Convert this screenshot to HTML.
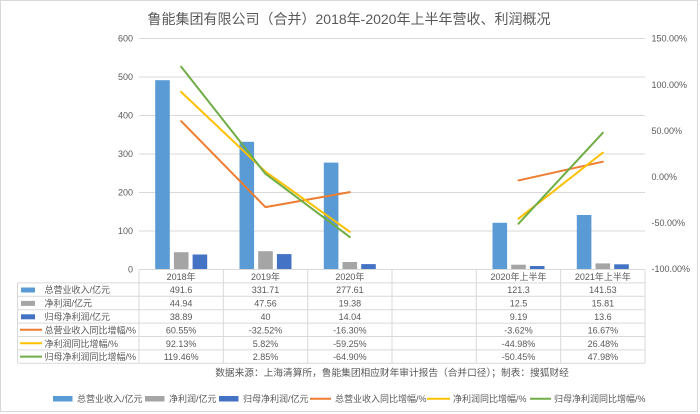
<!DOCTYPE html>
<html><head><meta charset="utf-8"><style>
html,body{margin:0;padding:0;background:#fff;}
svg{display:block;}
text{font-family:"Liberation Sans","Noto Sans CJK SC",sans-serif;fill:#595959;}
</style></head><body>
<svg width="700" height="414" viewBox="0 0 700 414" xmlns="http://www.w3.org/2000/svg">
<rect x="0" y="0" width="700" height="414" fill="#fff"/>
<rect x="0.5" y="0.5" width="697" height="411" fill="none" stroke="#d9d9d9" stroke-width="1"/>
<text x="349" y="24" font-size="14" text-anchor="middle">鲁能集团有限公司（合并）2018年-2020年上半年营收、利润概况</text>
<g stroke="#d9d9d9" stroke-width="1">
<line x1="139" y1="38.5" x2="645" y2="38.5"/>
<line x1="139" y1="77" x2="645" y2="77"/>
<line x1="139" y1="115.5" x2="645" y2="115.5"/>
<line x1="139" y1="154" x2="645" y2="154"/>
<line x1="139" y1="192.5" x2="645" y2="192.5"/>
<line x1="139" y1="231" x2="645" y2="231"/>
</g>
<g font-size="9" text-anchor="end">
<text x="133" y="41.7">600</text>
<text x="133" y="80.2">500</text>
<text x="133" y="118.7">400</text>
<text x="133" y="157.2">300</text>
<text x="133" y="195.7">200</text>
<text x="133" y="234.2">100</text>
<text x="133" y="272.7">0</text>
</g>
<g font-size="9">
<text x="651.5" y="41.7">150.00%</text>
<text x="651.5" y="87.8">100.00%</text>
<text x="651.5" y="133.9">50.00%</text>
<text x="651.5" y="180">0.00%</text>
<text x="651.5" y="226.1">-50.00%</text>
<text x="651.5" y="272.2">-100.00%</text>
</g>
<g fill="#5B9BD5">
<rect x="155.2" y="80.2" width="14.6" height="189.3"/>
<rect x="239.5" y="141.8" width="14.6" height="127.7"/>
<rect x="323.8" y="162.6" width="14.6" height="106.9"/>
<rect x="492.5" y="222.8" width="14.6" height="46.7"/>
<rect x="576.8" y="215.0" width="14.6" height="54.5"/>
</g>
<g fill="#A5A5A5">
<rect x="173.9" y="252.2" width="14.6" height="17.3"/>
<rect x="258.2" y="251.2" width="14.6" height="18.3"/>
<rect x="342.5" y="262.0" width="14.6" height="7.5"/>
<rect x="511.2" y="264.7" width="14.6" height="4.8"/>
<rect x="595.5" y="263.4" width="14.6" height="6.1"/>
</g>
<g fill="#4472C4">
<rect x="192.6" y="254.5" width="14.6" height="15.0"/>
<rect x="276.9" y="254.1" width="14.6" height="15.4"/>
<rect x="361.2" y="264.1" width="14.6" height="5.4"/>
<rect x="529.9" y="266.0" width="14.6" height="3.5"/>
<rect x="614.2" y="264.3" width="14.6" height="5.2"/>
</g>
<g fill="none" stroke-width="2" stroke-linejoin="round" stroke-linecap="round">
<polyline stroke="#ED7D31" points="181.17,121.15 265.5,207.15 349.83,192.16"/>
<polyline stroke="#ED7D31" points="518.5,180.44 602.83,161.70"/>
<polyline stroke="#FFC000" points="181.17,91.97 265.5,171.72 349.83,231.85"/>
<polyline stroke="#FFC000" points="518.5,218.66 602.83,152.63"/>
<polyline stroke="#70AD47" points="181.17,66.72 265.5,173.83 349.83,237.07"/>
<polyline stroke="#70AD47" points="518.5,223.72 602.83,132.77"/>
</g>
<g stroke="#d9d9d9" stroke-width="1">
<line x1="139" y1="269.5" x2="645" y2="269.5"/>
<line x1="17.5" y1="282.9" x2="645" y2="282.9"/>
<line x1="17.5" y1="296.3" x2="645" y2="296.3"/>
<line x1="17.5" y1="309.7" x2="645" y2="309.7"/>
<line x1="17.5" y1="323.1" x2="645" y2="323.1"/>
<line x1="17.5" y1="336.5" x2="645" y2="336.5"/>
<line x1="17.5" y1="349.9" x2="645" y2="349.9"/>
<line x1="17.5" y1="363.3" x2="645" y2="363.3"/>
<line x1="17.5" y1="282.9" x2="17.5" y2="363.3"/>
<line x1="139" y1="269.5" x2="139" y2="363.3"/>
<line x1="223.3" y1="269.5" x2="223.3" y2="363.3"/>
<line x1="307.7" y1="269.5" x2="307.7" y2="363.3"/>
<line x1="392" y1="269.5" x2="392" y2="363.3"/>
<line x1="476.3" y1="269.5" x2="476.3" y2="363.3"/>
<line x1="560.7" y1="269.5" x2="560.7" y2="363.3"/>
<line x1="645" y1="269.5" x2="645" y2="363.3"/>
</g>
<rect x="21" y="287.5" width="14" height="5" fill="#5B9BD5"/>
<rect x="21" y="300.9" width="14" height="5" fill="#A5A5A5"/>
<rect x="21" y="314.3" width="14" height="5" fill="#4472C4"/>
<line x1="20" y1="329.8" x2="42" y2="329.8" stroke="#ED7D31" stroke-width="2"/>
<line x1="20" y1="343.2" x2="42" y2="343.2" stroke="#FFC000" stroke-width="2"/>
<line x1="20" y1="356.6" x2="42" y2="356.6" stroke="#70AD47" stroke-width="2"/>
<g font-size="9">
<text x="44.5" y="293.2">总营业收入/亿元</text>
<text x="44.5" y="306.6">净利润/亿元</text>
<text x="44.5" y="320">归母净利润/亿元</text>
<text x="44.5" y="333.4">总营业收入同比增幅/%</text>
<text x="44.5" y="346.8">净利润同比增幅/%</text>
<text x="44.5" y="360.2">归母净利润同比增幅/%</text>
</g>
<g font-size="9" text-anchor="middle">
<text x="181.17" y="279.8">2018年</text>
<text x="265.5" y="279.8">2019年</text>
<text x="349.83" y="279.8">2020年</text>
<text x="518.5" y="279.8">2020年上半年</text>
<text x="602.83" y="279.8">2021年上半年</text>

<text x="181.17" y="293.2">491.6</text>
<text x="265.5" y="293.2">331.71</text>
<text x="349.83" y="293.2">277.61</text>
<text x="518.5" y="293.2">121.3</text>
<text x="602.83" y="293.2">141.53</text>

<text x="181.17" y="306.6">44.94</text>
<text x="265.5" y="306.6">47.56</text>
<text x="349.83" y="306.6">19.38</text>
<text x="518.5" y="306.6">12.5</text>
<text x="602.83" y="306.6">15.81</text>

<text x="181.17" y="320">38.89</text>
<text x="265.5" y="320">40</text>
<text x="349.83" y="320">14.04</text>
<text x="518.5" y="320">9.19</text>
<text x="602.83" y="320">13.6</text>

<text x="181.17" y="333.4">60.55%</text>
<text x="265.5" y="333.4">-32.52%</text>
<text x="349.83" y="333.4">-16.30%</text>
<text x="518.5" y="333.4">-3.62%</text>
<text x="602.83" y="333.4">16.67%</text>

<text x="181.17" y="346.8">92.13%</text>
<text x="265.5" y="346.8">5.82%</text>
<text x="349.83" y="346.8">-59.25%</text>
<text x="518.5" y="346.8">-44.98%</text>
<text x="602.83" y="346.8">26.48%</text>

<text x="181.17" y="360.2">119.46%</text>
<text x="265.5" y="360.2">2.85%</text>
<text x="349.83" y="360.2">-64.90%</text>
<text x="518.5" y="360.2">-50.45%</text>
<text x="602.83" y="360.2">47.98%</text>
</g>
<text x="392" y="376.2" font-size="9.7" text-anchor="middle">数据来源：上海清算所，鲁能集团相应财年审计报告（合并口径）；制表：搜狐财经</text>
<rect x="53" y="396" width="19.5" height="5.5" fill="#5B9BD5"/>
<text x="77" y="402.2" font-size="9">总营业收入/亿元</text>
<rect x="145" y="396" width="19.5" height="5.5" fill="#A5A5A5"/>
<text x="169" y="402.2" font-size="9">净利润/亿元</text>
<rect x="219" y="396" width="19.5" height="5.5" fill="#4472C4"/>
<text x="243" y="402.2" font-size="9">归母净利润/亿元</text>
<line x1="310" y1="398.8" x2="331" y2="398.8" stroke="#ED7D31" stroke-width="2"/>
<text x="335" y="402.2" font-size="9">总营业收入同比增幅/%</text>
<line x1="427" y1="398.8" x2="450" y2="398.8" stroke="#FFC000" stroke-width="2"/>
<text x="453" y="402.2" font-size="9">净利润同比增幅/%</text>
<line x1="530" y1="398.8" x2="551" y2="398.8" stroke="#70AD47" stroke-width="2"/>
<text x="554" y="402.2" font-size="9">归母净利润同比增幅/%</text>
</svg>
</body></html>
